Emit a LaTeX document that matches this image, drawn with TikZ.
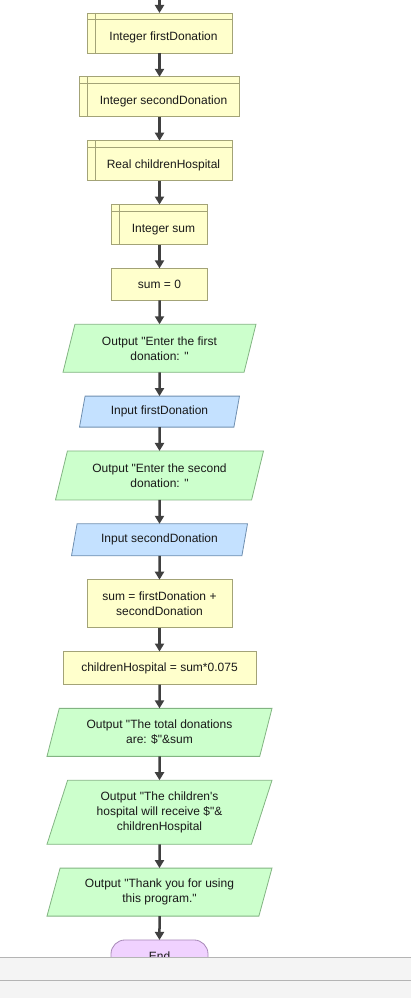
\documentclass[tikz,border=0pt]{standalone}
\usepackage{fontspec}
\setmainfont{Liberation Sans}
\usetikzlibrary{arrows.meta,positioning,shapes.geometric}
\definecolor{declfill}{HTML}{FFFFCC}
\definecolor{decldraw}{HTML}{A3A377}
\definecolor{outfill}{HTML}{CCFFCC}
\definecolor{outdraw}{HTML}{82B482}
\definecolor{infill}{HTML}{C4E1FF}
\definecolor{indraw}{HTML}{6F8FB0}
\definecolor{endfill}{HTML}{F0D2FF}
\definecolor{enddraw}{HTML}{A88AB8}
\definecolor{flowgray}{HTML}{404040}
\definecolor{panel}{HTML}{F4F4F4}
\definecolor{panelline}{HTML}{B4B4B4}
\newcommand{\qq}{\textquotedbl}

\begin{document}
\begin{tikzpicture}[node distance=23.85pt,
  every node/.style={font=\fontsize{12}{15}\selectfont,text=black!90,inner sep=2pt,outer sep=0pt},
  flow/.style={draw=flowgray,line width=2.5pt,-{Triangle[width=9pt,length=8pt]}},
  box/.style={rectangle,draw=decldraw,fill=declfill,line width=0.8pt,minimum height=40pt},
  decl/.style={box,text height=17pt,text depth=1pt,execute at begin node={\hspace*{8pt}},
    path picture={\draw[decldraw,line width=0.8pt]
      ([xshift=8pt]path picture bounding box.north west) -- ([xshift=8pt]path picture bounding box.south west)
      ([yshift=-6.5pt]path picture bounding box.north west) -- ([yshift=-6.5pt]path picture bounding box.north east);}},
  proc/.style={box,align=center},
  io/.style={trapezium,trapezium left angle=63.4,trapezium right angle=116.6,
    trapezium stretches body,line width=0.8pt,align=center,inner sep=0pt},
  outp/.style={io,draw=outdraw,fill=outfill},
  inp/.style={io,draw=indraw,fill=infill},
  term/.style={rectangle,rounded corners=14pt,draw=enddraw,fill=endfill,line width=0.8pt}]
 \useasboundingbox (0,0) rectangle (411pt,-998pt);
 \coordinate (top) at (159.5pt,0);
 % declarations
 \node[decl,minimum width=145pt] (d1) at (159.5pt,-33pt) {Integer firstDonation};
 \node[decl,minimum width=160pt,below=of d1] (d2) {Integer secondDonation};
 \node[decl,minimum width=145pt,below=of d2] (d3) {Real childrenHospital};
 \node[decl,minimum width=96pt,below=of d3] (d4) {Integer sum};
 \node[proc,minimum width=96pt,minimum height=32pt,below=of d4] (s0) {sum = 0};
 % input / output
 \node[outp,minimum width=193pt,minimum height=48pt,below=of s0] (o1) {Output \qq Enter the first\\donation: \qq};
 \node[inp,minimum width=160pt,minimum height=31pt,below=of o1] (i1) {Input firstDonation};
 \node[outp,minimum width=208pt,minimum height=49pt,below=of i1] (o2) {Output \qq Enter the second\\donation: \qq};
 \node[inp,minimum width=176pt,minimum height=32pt,below=of o2] (i2) {Input secondDonation};
 \node[proc,minimum width=145pt,minimum height=48pt,below=of i2] (s1) {sum = firstDonation +\\secondDonation};
 \node[proc,minimum width=193pt,minimum height=33pt,below=of s1] (s2) {childrenHospital = sum*0.075};
 \node[outp,minimum width=225pt,minimum height=48pt,below=of s2] (o3) {Output \qq The total donations\\are: \$\qq\&sum};
 \node[outp,minimum width=225pt,minimum height=64pt,below=of o3] (o4) {Output \qq The children\textquotesingle s\\hospital will receive \$\qq\&\\childrenHospital};
 \node[outp,minimum width=225pt,minimum height=48pt,below=of o4] (o5) {Output \qq Thank you for using\\this program.\qq};
 \node[term,minimum width=97pt,minimum height=33pt,below=of o5] (stop) {End};
 \foreach \a/\b in {top/d1,d1/d2,d2/d3,d3/d4,d4/s0,s0/o1,o1/i1,i1/o2,o2/i2,i2/s1,s1/s2,s2/o3,o3/o4,o4/o5,o5/stop}
   {\draw[flow] (\a) -- (\b);}
 % status bar
 \fill[panel] (0,-957pt) rectangle (411pt,-998pt);
 \draw[panelline,line width=1pt] (0,-957pt) -- (411pt,-957pt) (0,-980pt) -- (411pt,-980pt);
\end{tikzpicture}
\end{document}
